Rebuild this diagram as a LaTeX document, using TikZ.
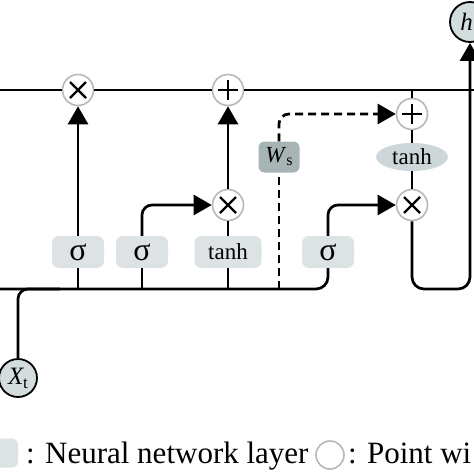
\documentclass[tikz,border=0pt]{standalone}
\usepackage{fontspec}
\setmainfont{Liberation Serif}
\usetikzlibrary{arrows.meta,shapes.geometric}
\definecolor{boxgray}{HTML}{DDE3E4}
\definecolor{ringgray}{HTML}{B4B9B9}
\definecolor{xtfill}{HTML}{D3DDDE}
\definecolor{wsfill}{HTML}{A7B4B6}
\definecolor{ellfill}{HTML}{CDD7D9}
\tikzset{
  layer/.style={draw=none,fill=boxgray,rounded corners=7pt,minimum height=32pt,inner sep=0pt},
  op/.style={circle,draw=ringgray,line width=1.6pt,fill=white,minimum size=31pt,inner sep=0pt},
  timesop/.style={op,path picture={
    \draw[line width=2.3pt,black] ([shift={(-8pt,-8pt)}]path picture bounding box.center) -- ([shift={(8pt,8pt)}]path picture bounding box.center);
    \draw[line width=2.3pt,black] ([shift={(-8pt,8pt)}]path picture bounding box.center) -- ([shift={(8pt,-8pt)}]path picture bounding box.center);}},
  plusop/.style={op,path picture={
    \draw[line width=2.3pt,black] ([shift={(-10pt,0pt)}]path picture bounding box.center) -- ([shift={(10pt,0pt)}]path picture bounding box.center);
    \draw[line width=2.3pt,black] ([shift={(0pt,-10pt)}]path picture bounding box.center) -- ([shift={(0pt,10pt)}]path picture bounding box.center);}},
  io/.style={circle,draw=black,line width=1.8pt,fill=xtfill,minimum size=38pt,inner sep=0pt},
  wire/.style={line width=2.7pt,draw=black},
  arr/.style={wire,-{Triangle[length=18pt,width=20pt]}},
  darr/.style={line width=2.7pt,draw=black,dash pattern=on 8pt off 5pt,-{Triangle[length=18pt,width=20pt]}},
  sig/.style={layer,minimum width=52pt,font=\fontsize{32}{32}\selectfont},
  legtext/.style={anchor=base west,inner sep=0pt,font=\fontsize{31}{31}\selectfont},
}
\begin{document}
\begin{tikzpicture}[x=1pt,y=-1pt]
\useasboundingbox (0,0) rectangle (474,474);
\clip (0,0) rectangle (474,474);
% nodes
\node[timesop] (mul1) at (78,90) {};
\node[plusop] (add1) at (228,90) {};
\node[plusop] (add2) at (412,114) {};
\node[timesop] (mul2) at (228,205) {};
\node[timesop] (mul3) at (412,205) {};
\node[ellipse,fill=ellfill,minimum width=72pt,minimum height=28pt,inner sep=0pt,font=\fontsize{23}{23}\selectfont] (tanh2) at (412,157) {tanh};
\node[sig] (s1) at (78,252) {σ};
\node[sig] (s2) at (142,252) {σ};
\node[layer,minimum width=67pt,font=\fontsize{23}{23}\selectfont] (tanh1) at (228,252) {tanh};
\node[sig] (s3) at (328,252) {σ};
\node[layer,fill=wsfill,minimum width=41pt,minimum height=31pt,rounded corners=6pt,font=\fontsize{23}{23}\selectfont] (ws) at (279,157) {\textit{W}\raisebox{-3pt}{\fontsize{16}{16}\selectfont s}};
\node[io,font=\fontsize{25}{25}\selectfont] (xt) at (18,378) {\textit{X}\kern-1pt\raisebox{-4pt}{\fontsize{17}{17}\selectfont t}};
\node[io,minimum size=40pt,font=\fontsize{25}{25}\selectfont] (h) at (470,22) {\textit{h}\phantom{t}};
\coordinate (bl) at (0,289);
\coordinate (cl) at (0,90);
\coordinate (cr) at (474,90);
\coordinate (b1) at (78,289);
\coordinate (b2) at (142,289);
\coordinate (b3) at (228,289);
\coordinate (b4) at (279,289);
\coordinate (b5) at (412,289);
\coordinate (b6) at (470,289);
\coordinate (c2) at (412,90);
\coordinate (xj) at (60,289);
% cell line
\draw[wire] (cl) -- (mul1.west);
\draw[wire] (mul1.east) -- (add1.west);
\draw[wire] (add1.east) -- (cr);
\draw[wire] (add2.north) -- (c2);
% base line
\draw[wire,rounded corners=12pt] (bl) -| (s3.south);
\draw[wire,rounded corners=10pt] (xt.north) |- (xj);
\draw[wire] (b1) -- (s1.south);
\draw[wire] (b2) -- (s2.south);
\draw[wire] (b3) -- (tanh1.south);
% gates
\draw[arr] (s1.north) -- (mul1.south);
\draw[arr,rounded corners=10pt] (s2.north) |- (mul2.west);
\draw[wire] (tanh1.north) -- (mul2.south);
\draw[arr] (mul2.north) -- (add1.south);
\draw[arr,rounded corners=10pt] (s3.north) |- (mul3.west);
\draw[wire] (mul3.north) -- (tanh2.south);
\draw[wire] (tanh2.north) -- (add2.south);
% Ws dashed
\draw[line width=2.7pt,dash pattern=on 8pt off 5pt] (b4) -- (ws.south);
\draw[darr,rounded corners=10pt] (ws.north) |- (add2.west);
% output
\draw[arr,rounded corners=12pt] (mul3.south) -- (b5) -- (b6) -- (h.south);
% legend
\node[fill=boxgray,rounded corners=6pt,minimum width=40pt,minimum height=29pt,inner sep=0pt] (leg1) at (-2,453) {};
\node[legtext] (legt1) at (26,463) {: Neural network layer};
\node[circle,draw=ringgray,line width=1.6pt,minimum size=28pt,inner sep=0pt] (leg2) at (330,455) {};
\node[legtext] (legt2) at (348,463) {: Point wi};
\end{tikzpicture}
\end{document}
